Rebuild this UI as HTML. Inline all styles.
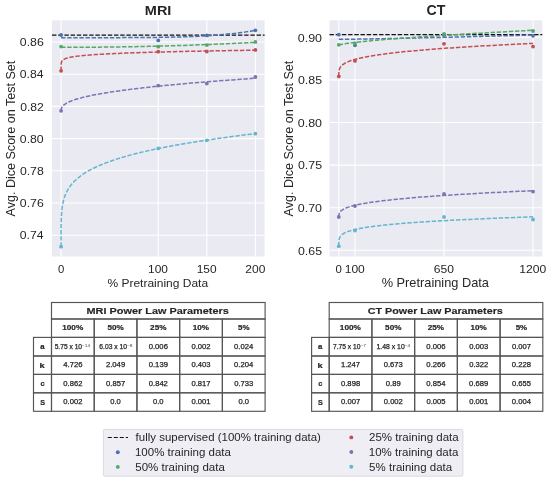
<!DOCTYPE html>
<html><head><meta charset="utf-8"><title>Power law figure</title>
<style>html,body{margin:0;padding:0;background:#fff;}body{width:550px;height:481px;overflow:hidden;}svg{display:block;font-family:"Liberation Sans", sans-serif;filter:blur(0.3px);}</style>
</head><body>
<svg width="550" height="481" viewBox="0 0 550 481">
<rect width="550" height="481" fill="#fff"/>
<rect x="52.0" y="20.3" width="212.60" height="236.20" fill="#EAEAF2"/>
<line x1="61.10" y1="20.3" x2="61.10" y2="256.5" stroke="#fff" stroke-width="1.1"/>
<line x1="158.25" y1="20.3" x2="158.25" y2="256.5" stroke="#fff" stroke-width="1.1"/>
<line x1="206.82" y1="20.3" x2="206.82" y2="256.5" stroke="#fff" stroke-width="1.1"/>
<line x1="255.40" y1="20.3" x2="255.40" y2="256.5" stroke="#fff" stroke-width="1.1"/>
<line x1="52.0" y1="235.20" x2="264.6" y2="235.20" stroke="#fff" stroke-width="1.1"/>
<line x1="52.0" y1="203.00" x2="264.6" y2="203.00" stroke="#fff" stroke-width="1.1"/>
<line x1="52.0" y1="170.80" x2="264.6" y2="170.80" stroke="#fff" stroke-width="1.1"/>
<line x1="52.0" y1="138.60" x2="264.6" y2="138.60" stroke="#fff" stroke-width="1.1"/>
<line x1="52.0" y1="106.40" x2="264.6" y2="106.40" stroke="#fff" stroke-width="1.1"/>
<line x1="52.0" y1="74.20" x2="264.6" y2="74.20" stroke="#fff" stroke-width="1.1"/>
<line x1="52.0" y1="42.00" x2="264.6" y2="42.00" stroke="#fff" stroke-width="1.1"/>
<line x1="52.0" y1="35.20" x2="264.6" y2="35.20" stroke="#111" stroke-width="1.2" stroke-dasharray="4.4 1.8"/>
<polyline points="61.10,37.65 61.10,37.65 61.10,37.65 61.10,37.65 61.11,37.65 61.11,37.65 61.12,37.65 61.14,37.65 61.16,37.65 61.18,37.65 61.21,37.65 61.25,37.65 61.29,37.65 61.35,37.65 61.41,37.65 61.48,37.65 61.56,37.65 61.65,37.65 61.76,37.65 61.87,37.65 62.00,37.65 62.14,37.65 62.30,37.65 62.47,37.65 62.65,37.65 62.86,37.65 63.08,37.65 63.31,37.65 63.57,37.65 63.84,37.65 64.14,37.65 64.45,37.65 64.78,37.65 65.14,37.65 65.52,37.65 65.92,37.65 66.35,37.65 66.80,37.65 67.27,37.65 67.77,37.65 68.30,37.65 68.85,37.65 69.43,37.65 70.04,37.65 70.68,37.65 71.35,37.65 72.04,37.65 72.77,37.65 73.54,37.65 74.33,37.65 75.16,37.65 76.02,37.65 76.91,37.65 77.84,37.65 78.81,37.65 79.81,37.65 80.85,37.65 81.92,37.65 83.04,37.65 84.19,37.65 85.39,37.65 86.62,37.65 87.90,37.65 89.22,37.65 90.58,37.65 91.98,37.65 93.43,37.65 94.92,37.65 96.46,37.65 98.04,37.65 99.67,37.65 101.34,37.65 103.07,37.65 104.84,37.65 106.66,37.65 108.54,37.64 110.46,37.64 112.43,37.64 114.46,37.64 116.54,37.63 118.67,37.63 120.86,37.63 123.10,37.62 125.39,37.61 127.74,37.61 130.15,37.60 132.62,37.59 135.14,37.58 137.73,37.56 140.37,37.55 143.07,37.53 145.83,37.51 148.66,37.48 151.54,37.46 154.49,37.42 157.51,37.39 160.58,37.34 163.72,37.29 166.93,37.24 170.20,37.17 173.54,37.10 176.95,37.02 180.42,36.92 183.97,36.81 187.58,36.69 191.27,36.55 195.02,36.39 198.85,36.21 202.74,36.01 206.72,35.78 210.76,35.52 214.88,35.23 219.07,34.90 223.34,34.53 227.69,34.11 232.11,33.65 236.61,33.12 241.19,32.54 245.85,31.88 250.58,31.15 255.40,30.33" fill="none" stroke="#4C72B0" stroke-width="1.5" stroke-dasharray="4.4 1.7"/>
<polyline points="61.10,47.31 61.10,47.31 61.10,47.31 61.10,47.31 61.11,47.31 61.11,47.31 61.12,47.31 61.14,47.31 61.16,47.31 61.18,47.31 61.21,47.31 61.25,47.31 61.29,47.31 61.35,47.31 61.41,47.31 61.48,47.31 61.56,47.31 61.65,47.31 61.76,47.31 61.87,47.31 62.00,47.31 62.14,47.31 62.30,47.31 62.47,47.31 62.65,47.31 62.86,47.31 63.08,47.31 63.31,47.31 63.57,47.31 63.84,47.31 64.14,47.31 64.45,47.31 64.78,47.31 65.14,47.31 65.52,47.31 65.92,47.31 66.35,47.31 66.80,47.31 67.27,47.31 67.77,47.31 68.30,47.31 68.85,47.31 69.43,47.31 70.04,47.30 70.68,47.30 71.35,47.30 72.04,47.30 72.77,47.30 73.54,47.30 74.33,47.29 75.16,47.29 76.02,47.29 76.91,47.28 77.84,47.28 78.81,47.28 79.81,47.27 80.85,47.27 81.92,47.26 83.04,47.26 84.19,47.25 85.39,47.24 86.62,47.24 87.90,47.23 89.22,47.22 90.58,47.21 91.98,47.20 93.43,47.19 94.92,47.18 96.46,47.16 98.04,47.15 99.67,47.13 101.34,47.12 103.07,47.10 104.84,47.08 106.66,47.06 108.54,47.04 110.46,47.01 112.43,46.99 114.46,46.96 116.54,46.93 118.67,46.90 120.86,46.87 123.10,46.84 125.39,46.80 127.74,46.76 130.15,46.72 132.62,46.67 135.14,46.63 137.73,46.58 140.37,46.52 143.07,46.47 145.83,46.41 148.66,46.35 151.54,46.28 154.49,46.21 157.51,46.14 160.58,46.06 163.72,45.97 166.93,45.89 170.20,45.80 173.54,45.70 176.95,45.60 180.42,45.49 183.97,45.38 187.58,45.26 191.27,45.13 195.02,45.00 198.85,44.87 202.74,44.72 206.72,44.57 210.76,44.41 214.88,44.25 219.07,44.07 223.34,43.89 227.69,43.70 232.11,43.50 236.61,43.29 241.19,43.08 245.85,42.85 250.58,42.61 255.40,42.36" fill="none" stroke="#55A868" stroke-width="1.5" stroke-dasharray="4.4 1.7"/>
<polyline points="61.10,70.82 61.10,68.01 61.10,67.07 61.10,66.38 61.11,65.82 61.11,65.33 61.12,64.90 61.14,64.50 61.16,64.14 61.18,63.81 61.21,63.49 61.25,63.19 61.29,62.91 61.35,62.64 61.41,62.39 61.48,62.14 61.56,61.90 61.65,61.68 61.76,61.45 61.87,61.24 62.00,61.03 62.14,60.83 62.30,60.64 62.47,60.45 62.65,60.26 62.86,60.08 63.08,59.90 63.31,59.73 63.57,59.56 63.84,59.39 64.14,59.23 64.45,59.07 64.78,58.92 65.14,58.76 65.52,58.61 65.92,58.46 66.35,58.32 66.80,58.17 67.27,58.03 67.77,57.89 68.30,57.75 68.85,57.62 69.43,57.49 70.04,57.35 70.68,57.22 71.35,57.10 72.04,56.97 72.77,56.85 73.54,56.72 74.33,56.60 75.16,56.48 76.02,56.36 76.91,56.24 77.84,56.13 78.81,56.01 79.81,55.90 80.85,55.79 81.92,55.68 83.04,55.57 84.19,55.46 85.39,55.35 86.62,55.24 87.90,55.13 89.22,55.03 90.58,54.93 91.98,54.82 93.43,54.72 94.92,54.62 96.46,54.52 98.04,54.42 99.67,54.32 101.34,54.22 103.07,54.13 104.84,54.03 106.66,53.93 108.54,53.84 110.46,53.75 112.43,53.65 114.46,53.56 116.54,53.47 118.67,53.38 120.86,53.29 123.10,53.20 125.39,53.11 127.74,53.02 130.15,52.93 132.62,52.84 135.14,52.76 137.73,52.67 140.37,52.58 143.07,52.50 145.83,52.41 148.66,52.33 151.54,52.25 154.49,52.16 157.51,52.08 160.58,52.00 163.72,51.92 166.93,51.84 170.20,51.76 173.54,51.68 176.95,51.60 180.42,51.52 183.97,51.44 187.58,51.36 191.27,51.28 195.02,51.20 198.85,51.13 202.74,51.05 206.72,50.97 210.76,50.90 214.88,50.82 219.07,50.75 223.34,50.67 227.69,50.60 232.11,50.53 236.61,50.45 241.19,50.38 245.85,50.31 250.58,50.23 255.40,50.16" fill="none" stroke="#C44E52" stroke-width="1.5" stroke-dasharray="4.4 1.7"/>
<polyline points="61.10,110.91 61.10,110.81 61.10,110.68 61.10,110.53 61.11,110.37 61.11,110.21 61.12,110.03 61.14,109.86 61.16,109.67 61.18,109.48 61.21,109.29 61.25,109.09 61.29,108.89 61.35,108.68 61.41,108.48 61.48,108.26 61.56,108.05 61.65,107.83 61.76,107.61 61.87,107.39 62.00,107.17 62.14,106.94 62.30,106.71 62.47,106.48 62.65,106.24 62.86,106.01 63.08,105.77 63.31,105.53 63.57,105.29 63.84,105.04 64.14,104.80 64.45,104.55 64.78,104.30 65.14,104.05 65.52,103.80 65.92,103.55 66.35,103.29 66.80,103.03 67.27,102.78 67.77,102.52 68.30,102.26 68.85,101.99 69.43,101.73 70.04,101.46 70.68,101.20 71.35,100.93 72.04,100.66 72.77,100.39 73.54,100.12 74.33,99.85 75.16,99.58 76.02,99.30 76.91,99.03 77.84,98.75 78.81,98.47 79.81,98.19 80.85,97.91 81.92,97.63 83.04,97.35 84.19,97.07 85.39,96.78 86.62,96.50 87.90,96.21 89.22,95.92 90.58,95.63 91.98,95.35 93.43,95.06 94.92,94.76 96.46,94.47 98.04,94.18 99.67,93.89 101.34,93.59 103.07,93.30 104.84,93.00 106.66,92.70 108.54,92.41 110.46,92.11 112.43,91.81 114.46,91.51 116.54,91.21 118.67,90.90 120.86,90.60 123.10,90.30 125.39,89.99 127.74,89.69 130.15,89.38 132.62,89.08 135.14,88.77 137.73,88.46 140.37,88.15 143.07,87.84 145.83,87.53 148.66,87.22 151.54,86.91 154.49,86.60 157.51,86.29 160.58,85.97 163.72,85.66 166.93,85.34 170.20,85.03 173.54,84.71 176.95,84.39 180.42,84.08 183.97,83.76 187.58,83.44 191.27,83.12 195.02,82.80 198.85,82.48 202.74,82.16 206.72,81.83 210.76,81.51 214.88,81.19 219.07,80.86 223.34,80.54 227.69,80.21 232.11,79.89 236.61,79.56 241.19,79.23 245.85,78.91 250.58,78.58 255.40,78.25" fill="none" stroke="#8172B2" stroke-width="1.5" stroke-dasharray="4.4 1.7"/>
<polyline points="61.10,246.63 61.10,240.60 61.10,237.41 61.10,234.81 61.11,232.54 61.11,230.48 61.12,228.57 61.14,226.78 61.16,225.09 61.18,223.48 61.21,221.94 61.25,220.46 61.29,219.03 61.35,217.64 61.41,216.29 61.48,214.99 61.56,213.71 61.65,212.47 61.76,211.25 61.87,210.06 62.00,208.89 62.14,207.75 62.30,206.63 62.47,205.52 62.65,204.44 62.86,203.37 63.08,202.32 63.31,201.29 63.57,200.27 63.84,199.26 64.14,198.27 64.45,197.29 64.78,196.32 65.14,195.36 65.52,194.42 65.92,193.48 66.35,192.56 66.80,191.64 67.27,190.74 67.77,189.84 68.30,188.95 68.85,188.08 69.43,187.21 70.04,186.34 70.68,185.49 71.35,184.64 72.04,183.80 72.77,182.97 73.54,182.15 74.33,181.33 75.16,180.52 76.02,179.71 76.91,178.91 77.84,178.11 78.81,177.33 79.81,176.54 80.85,175.77 81.92,174.99 83.04,174.23 84.19,173.47 85.39,172.71 86.62,171.96 87.90,171.21 89.22,170.47 90.58,169.73 91.98,169.00 93.43,168.27 94.92,167.55 96.46,166.83 98.04,166.11 99.67,165.40 101.34,164.69 103.07,163.98 104.84,163.28 106.66,162.59 108.54,161.89 110.46,161.20 112.43,160.52 114.46,159.84 116.54,159.16 118.67,158.48 120.86,157.81 123.10,157.14 125.39,156.47 127.74,155.81 130.15,155.15 132.62,154.49 135.14,153.84 137.73,153.19 140.37,152.54 143.07,151.89 145.83,151.25 148.66,150.61 151.54,149.97 154.49,149.34 157.51,148.70 160.58,148.07 163.72,147.45 166.93,146.82 170.20,146.20 173.54,145.58 176.95,144.96 180.42,144.35 183.97,143.74 187.58,143.13 191.27,142.52 195.02,141.91 198.85,141.31 202.74,140.71 206.72,140.11 210.76,139.51 214.88,138.92 219.07,138.32 223.34,137.73 227.69,137.14 232.11,136.56 236.61,135.97 241.19,135.39 245.85,134.81 250.58,134.23 255.40,133.65" fill="none" stroke="#64B5CD" stroke-width="1.5" stroke-dasharray="4.4 1.7"/>
<circle cx="61.10" cy="35.00" r="1.9" fill="#4C72B0"/>
<circle cx="158.25" cy="40.40" r="1.9" fill="#4C72B0"/>
<circle cx="206.82" cy="35.40" r="1.9" fill="#4C72B0"/>
<circle cx="255.40" cy="30.30" r="1.9" fill="#4C72B0"/>
<circle cx="61.10" cy="46.60" r="1.9" fill="#55A868"/>
<circle cx="158.25" cy="46.70" r="1.9" fill="#55A868"/>
<circle cx="206.82" cy="45.10" r="1.9" fill="#55A868"/>
<circle cx="255.40" cy="41.90" r="1.9" fill="#55A868"/>
<circle cx="61.10" cy="70.80" r="1.9" fill="#C44E52"/>
<circle cx="158.25" cy="51.70" r="1.9" fill="#C44E52"/>
<circle cx="206.82" cy="51.50" r="1.9" fill="#C44E52"/>
<circle cx="255.40" cy="49.90" r="1.9" fill="#C44E52"/>
<circle cx="61.10" cy="110.80" r="1.9" fill="#8172B2"/>
<circle cx="158.25" cy="85.60" r="1.9" fill="#8172B2"/>
<circle cx="206.82" cy="83.60" r="1.9" fill="#8172B2"/>
<circle cx="255.40" cy="77.00" r="1.9" fill="#8172B2"/>
<circle cx="61.10" cy="246.70" r="1.9" fill="#64B5CD"/>
<circle cx="158.25" cy="148.40" r="1.9" fill="#64B5CD"/>
<circle cx="206.82" cy="140.30" r="1.9" fill="#64B5CD"/>
<circle cx="255.40" cy="133.70" r="1.9" fill="#64B5CD"/>
<text x="57.95" y="273.00" font-size="11.40" textLength="6.29" lengthAdjust="spacingAndGlyphs" fill="#262626">0</text>
<text x="148.09" y="273.00" font-size="11.40" textLength="19.89" lengthAdjust="spacingAndGlyphs" fill="#262626">100</text>
<text x="196.66" y="273.00" font-size="11.40" textLength="19.89" lengthAdjust="spacingAndGlyphs" fill="#262626">150</text>
<text x="245.33" y="273.00" font-size="11.40" textLength="20.00" lengthAdjust="spacingAndGlyphs" fill="#262626">200</text>
<text x="19.77" y="239.30" font-size="11.61" textLength="23.79" lengthAdjust="spacingAndGlyphs" fill="#262626">0.74</text>
<text x="19.85" y="207.10" font-size="11.61" textLength="23.89" lengthAdjust="spacingAndGlyphs" fill="#262626">0.76</text>
<text x="19.90" y="174.90" font-size="11.61" textLength="23.84" lengthAdjust="spacingAndGlyphs" fill="#262626">0.78</text>
<text x="19.88" y="142.70" font-size="11.61" textLength="23.80" lengthAdjust="spacingAndGlyphs" fill="#262626">0.80</text>
<text x="20.26" y="110.50" font-size="11.61" textLength="23.56" lengthAdjust="spacingAndGlyphs" fill="#262626">0.82</text>
<text x="19.77" y="78.30" font-size="11.61" textLength="23.79" lengthAdjust="spacingAndGlyphs" fill="#262626">0.84</text>
<text x="19.85" y="46.10" font-size="11.61" textLength="23.89" lengthAdjust="spacingAndGlyphs" fill="#262626">0.86</text>
<text x="144.82" y="14.80" font-size="13.42" font-weight="bold" textLength="26.57" lengthAdjust="spacingAndGlyphs" fill="#262626">MRI</text>
<text x="107.48" y="286.60" font-size="11.71" textLength="100.63" lengthAdjust="spacingAndGlyphs" fill="#262626">% Pretraining Data</text>
<text transform="translate(15.30,216.43) rotate(-90)" x="0" y="0" font-size="12.14" textLength="155.72" lengthAdjust="spacingAndGlyphs" fill="#262626">Avg. Dice Score on Test Set</text>
<rect x="329.5" y="20.3" width="212.80" height="236.20" fill="#EAEAF2"/>
<line x1="338.80" y1="20.3" x2="338.80" y2="256.5" stroke="#fff" stroke-width="1.1"/>
<line x1="354.99" y1="20.3" x2="354.99" y2="256.5" stroke="#fff" stroke-width="1.1"/>
<line x1="444.02" y1="20.3" x2="444.02" y2="256.5" stroke="#fff" stroke-width="1.1"/>
<line x1="533.06" y1="20.3" x2="533.06" y2="256.5" stroke="#fff" stroke-width="1.1"/>
<line x1="329.5" y1="250.30" x2="542.3" y2="250.30" stroke="#fff" stroke-width="1.1"/>
<line x1="329.5" y1="207.70" x2="542.3" y2="207.70" stroke="#fff" stroke-width="1.1"/>
<line x1="329.5" y1="165.10" x2="542.3" y2="165.10" stroke="#fff" stroke-width="1.1"/>
<line x1="329.5" y1="122.50" x2="542.3" y2="122.50" stroke="#fff" stroke-width="1.1"/>
<line x1="329.5" y1="79.90" x2="542.3" y2="79.90" stroke="#fff" stroke-width="1.1"/>
<line x1="329.5" y1="37.30" x2="542.3" y2="37.30" stroke="#fff" stroke-width="1.1"/>
<line x1="329.5" y1="34.60" x2="542.3" y2="34.60" stroke="#111" stroke-width="1.2" stroke-dasharray="4.4 1.8"/>
<polyline points="338.80,39.34 338.80,39.34 338.80,39.34 338.80,39.34 338.81,39.34 338.81,39.34 338.82,39.34 338.84,39.34 338.86,39.34 338.88,39.34 338.91,39.34 338.95,39.34 338.99,39.34 339.05,39.34 339.11,39.34 339.18,39.34 339.26,39.34 339.35,39.34 339.46,39.34 339.57,39.34 339.70,39.34 339.84,39.34 340.00,39.34 340.17,39.34 340.35,39.33 340.56,39.33 340.78,39.33 341.01,39.33 341.27,39.33 341.54,39.32 341.84,39.32 342.15,39.32 342.48,39.31 342.84,39.31 343.22,39.31 343.62,39.30 344.04,39.30 344.49,39.29 344.97,39.29 345.47,39.28 345.99,39.27 346.55,39.27 347.13,39.26 347.74,39.25 348.38,39.24 349.04,39.23 349.74,39.22 350.47,39.21 351.23,39.20 352.03,39.19 352.85,39.18 353.71,39.17 354.61,39.15 355.54,39.14 356.50,39.13 357.50,39.11 358.54,39.09 359.62,39.08 360.73,39.06 361.89,39.04 363.08,39.02 364.32,39.00 365.59,38.98 366.91,38.95 368.27,38.93 369.67,38.91 371.12,38.88 372.61,38.85 374.15,38.82 375.73,38.80 377.36,38.77 379.04,38.73 380.76,38.70 382.53,38.67 384.35,38.63 386.23,38.59 388.15,38.56 390.12,38.52 392.15,38.48 394.23,38.43 396.36,38.39 398.54,38.34 400.78,38.30 403.08,38.25 405.43,38.20 407.84,38.15 410.30,38.09 412.83,38.04 415.41,37.98 418.05,37.92 420.75,37.86 423.51,37.80 426.34,37.73 429.22,37.67 432.17,37.60 435.18,37.53 438.26,37.46 441.40,37.38 444.61,37.30 447.88,37.22 451.22,37.14 454.62,37.06 458.10,36.97 461.64,36.89 465.25,36.80 468.94,36.70 472.69,36.61 476.52,36.51 480.41,36.41 484.38,36.31 488.43,36.20 492.54,36.09 496.74,35.98 501.01,35.87 505.35,35.75 509.77,35.63 514.27,35.51 518.85,35.38 523.50,35.26 528.24,35.12 533.06,34.99" fill="none" stroke="#4C72B0" stroke-width="1.5" stroke-dasharray="4.4 1.7"/>
<polyline points="338.80,45.22 338.80,45.22 338.80,45.22 338.80,45.21 338.81,45.21 338.81,45.20 338.82,45.19 338.84,45.18 338.86,45.16 338.88,45.14 338.91,45.12 338.95,45.10 338.99,45.08 339.05,45.06 339.11,45.03 339.18,45.00 339.26,44.97 339.35,44.93 339.46,44.90 339.57,44.86 339.70,44.82 339.84,44.78 340.00,44.74 340.17,44.69 340.35,44.64 340.56,44.59 340.78,44.54 341.01,44.49 341.27,44.43 341.54,44.37 341.84,44.31 342.15,44.25 342.48,44.19 342.84,44.12 343.22,44.05 343.62,43.98 344.04,43.91 344.49,43.83 344.97,43.76 345.47,43.68 345.99,43.60 346.55,43.51 347.13,43.43 347.74,43.34 348.38,43.25 349.04,43.16 349.74,43.07 350.47,42.97 351.23,42.87 352.03,42.77 352.85,42.67 353.71,42.57 354.61,42.46 355.54,42.35 356.50,42.24 357.50,42.13 358.54,42.02 359.62,41.90 360.73,41.78 361.89,41.66 363.08,41.54 364.32,41.41 365.59,41.28 366.91,41.15 368.27,41.02 369.67,40.89 371.12,40.75 372.61,40.62 374.15,40.48 375.73,40.33 377.36,40.19 379.04,40.04 380.76,39.90 382.53,39.75 384.35,39.59 386.23,39.44 388.15,39.28 390.12,39.12 392.15,38.96 394.23,38.80 396.36,38.63 398.54,38.47 400.78,38.30 403.08,38.12 405.43,37.95 407.84,37.77 410.30,37.60 412.83,37.42 415.41,37.23 418.05,37.05 420.75,36.86 423.51,36.68 426.34,36.48 429.22,36.29 432.17,36.10 435.18,35.90 438.26,35.70 441.40,35.50 444.61,35.30 447.88,35.09 451.22,34.88 454.62,34.67 458.10,34.46 461.64,34.25 465.25,34.03 468.94,33.81 472.69,33.59 476.52,33.37 480.41,33.14 484.38,32.92 488.43,32.69 492.54,32.46 496.74,32.22 501.01,31.99 505.35,31.75 509.77,31.51 514.27,31.27 518.85,31.02 523.50,30.78 528.24,30.53 533.06,30.28" fill="none" stroke="#55A868" stroke-width="1.5" stroke-dasharray="4.4 1.7"/>
<polyline points="338.80,76.41 338.80,75.68 338.80,75.15 338.80,74.67 338.81,74.22 338.81,73.80 338.82,73.39 338.84,72.99 338.86,72.61 338.88,72.23 338.91,71.87 338.95,71.51 338.99,71.16 339.05,70.81 339.11,70.47 339.18,70.13 339.26,69.80 339.35,69.47 339.46,69.15 339.57,68.83 339.70,68.51 339.84,68.20 340.00,67.89 340.17,67.58 340.35,67.28 340.56,66.98 340.78,66.68 341.01,66.38 341.27,66.08 341.54,65.79 341.84,65.50 342.15,65.21 342.48,64.92 342.84,64.64 343.22,64.35 343.62,64.07 344.04,63.79 344.49,63.51 344.97,63.23 345.47,62.96 345.99,62.68 346.55,62.41 347.13,62.14 347.74,61.87 348.38,61.60 349.04,61.33 349.74,61.06 350.47,60.80 351.23,60.53 352.03,60.27 352.85,60.01 353.71,59.75 354.61,59.49 355.54,59.23 356.50,58.97 357.50,58.71 358.54,58.46 359.62,58.20 360.73,57.95 361.89,57.69 363.08,57.44 364.32,57.19 365.59,56.94 366.91,56.69 368.27,56.44 369.67,56.19 371.12,55.94 372.61,55.69 374.15,55.45 375.73,55.20 377.36,54.96 379.04,54.71 380.76,54.47 382.53,54.23 384.35,53.98 386.23,53.74 388.15,53.50 390.12,53.26 392.15,53.02 394.23,52.78 396.36,52.55 398.54,52.31 400.78,52.07 403.08,51.83 405.43,51.60 407.84,51.36 410.30,51.13 412.83,50.89 415.41,50.66 418.05,50.43 420.75,50.19 423.51,49.96 426.34,49.73 429.22,49.50 432.17,49.27 435.18,49.04 438.26,48.81 441.40,48.58 444.61,48.35 447.88,48.12 451.22,47.89 454.62,47.67 458.10,47.44 461.64,47.21 465.25,46.99 468.94,46.76 472.69,46.54 476.52,46.31 480.41,46.09 484.38,45.87 488.43,45.64 492.54,45.42 496.74,45.20 501.01,44.97 505.35,44.75 509.77,44.53 514.27,44.31 518.85,44.09 523.50,43.87 528.24,43.65 533.06,43.43" fill="none" stroke="#C44E52" stroke-width="1.5" stroke-dasharray="4.4 1.7"/>
<polyline points="338.80,217.16 338.80,216.90 338.80,216.65 338.80,216.41 338.81,216.17 338.81,215.93 338.82,215.69 338.84,215.46 338.86,215.22 338.88,214.99 338.91,214.76 338.95,214.53 338.99,214.30 339.05,214.07 339.11,213.84 339.18,213.61 339.26,213.38 339.35,213.15 339.46,212.93 339.57,212.70 339.70,212.47 339.84,212.25 340.00,212.02 340.17,211.79 340.35,211.57 340.56,211.34 340.78,211.12 341.01,210.90 341.27,210.67 341.54,210.45 341.84,210.23 342.15,210.00 342.48,209.78 342.84,209.56 343.22,209.33 343.62,209.11 344.04,208.89 344.49,208.67 344.97,208.45 345.47,208.23 345.99,208.00 346.55,207.78 347.13,207.56 347.74,207.34 348.38,207.12 349.04,206.90 349.74,206.68 350.47,206.46 351.23,206.24 352.03,206.02 352.85,205.80 353.71,205.58 354.61,205.36 355.54,205.15 356.50,204.93 357.50,204.71 358.54,204.49 359.62,204.27 360.73,204.05 361.89,203.83 363.08,203.62 364.32,203.40 365.59,203.18 366.91,202.96 368.27,202.75 369.67,202.53 371.12,202.31 372.61,202.09 374.15,201.88 375.73,201.66 377.36,201.44 379.04,201.23 380.76,201.01 382.53,200.79 384.35,200.58 386.23,200.36 388.15,200.14 390.12,199.93 392.15,199.71 394.23,199.49 396.36,199.28 398.54,199.06 400.78,198.85 403.08,198.63 405.43,198.42 407.84,198.20 410.30,197.98 412.83,197.77 415.41,197.55 418.05,197.34 420.75,197.12 423.51,196.91 426.34,196.69 429.22,196.48 432.17,196.26 435.18,196.05 438.26,195.84 441.40,195.62 444.61,195.41 447.88,195.19 451.22,194.98 454.62,194.76 458.10,194.55 461.64,194.33 465.25,194.12 468.94,193.91 472.69,193.69 476.52,193.48 480.41,193.27 484.38,193.05 488.43,192.84 492.54,192.62 496.74,192.41 501.01,192.20 505.35,191.98 509.77,191.77 514.27,191.56 518.85,191.34 523.50,191.13 528.24,190.92 533.06,190.71" fill="none" stroke="#8172B2" stroke-width="1.5" stroke-dasharray="4.4 1.7"/>
<polyline points="338.80,246.13 338.80,245.02 338.80,244.35 338.80,243.78 338.81,243.27 338.81,242.79 338.82,242.35 338.84,241.93 338.86,241.53 338.88,241.15 338.91,240.77 338.95,240.41 338.99,240.06 339.05,239.72 339.11,239.39 339.18,239.06 339.26,238.74 339.35,238.43 339.46,238.12 339.57,237.82 339.70,237.53 339.84,237.24 340.00,236.95 340.17,236.66 340.35,236.39 340.56,236.11 340.78,235.84 341.01,235.57 341.27,235.30 341.54,235.04 341.84,234.78 342.15,234.52 342.48,234.27 342.84,234.01 343.22,233.76 343.62,233.52 344.04,233.27 344.49,233.03 344.97,232.79 345.47,232.55 345.99,232.31 346.55,232.08 347.13,231.84 347.74,231.61 348.38,231.38 349.04,231.15 349.74,230.93 350.47,230.70 351.23,230.48 352.03,230.25 352.85,230.03 353.71,229.81 354.61,229.60 355.54,229.38 356.50,229.16 357.50,228.95 358.54,228.74 359.62,228.52 360.73,228.31 361.89,228.10 363.08,227.90 364.32,227.69 365.59,227.48 366.91,227.28 368.27,227.07 369.67,226.87 371.12,226.67 372.61,226.47 374.15,226.27 375.73,226.07 377.36,225.87 379.04,225.67 380.76,225.48 382.53,225.28 384.35,225.08 386.23,224.89 388.15,224.70 390.12,224.51 392.15,224.31 394.23,224.12 396.36,223.93 398.54,223.74 400.78,223.55 403.08,223.37 405.43,223.18 407.84,222.99 410.30,222.81 412.83,222.62 415.41,222.44 418.05,222.25 420.75,222.07 423.51,221.89 426.34,221.71 429.22,221.52 432.17,221.34 435.18,221.16 438.26,220.98 441.40,220.81 444.61,220.63 447.88,220.45 451.22,220.27 454.62,220.10 458.10,219.92 461.64,219.74 465.25,219.57 468.94,219.40 472.69,219.22 476.52,219.05 480.41,218.88 484.38,218.70 488.43,218.53 492.54,218.36 496.74,218.19 501.01,218.02 505.35,217.85 509.77,217.68 514.27,217.51 518.85,217.34 523.50,217.17 528.24,217.01 533.06,216.84" fill="none" stroke="#64B5CD" stroke-width="1.5" stroke-dasharray="4.4 1.7"/>
<circle cx="338.80" cy="34.70" r="1.9" fill="#4C72B0"/>
<circle cx="354.99" cy="45.30" r="1.9" fill="#4C72B0"/>
<circle cx="444.02" cy="34.90" r="1.9" fill="#4C72B0"/>
<circle cx="533.06" cy="35.80" r="1.9" fill="#4C72B0"/>
<circle cx="338.80" cy="44.80" r="1.9" fill="#55A868"/>
<circle cx="354.99" cy="43.50" r="1.9" fill="#55A868"/>
<circle cx="444.02" cy="33.90" r="1.9" fill="#55A868"/>
<circle cx="533.06" cy="31.00" r="1.9" fill="#55A868"/>
<circle cx="338.80" cy="76.40" r="1.9" fill="#C44E52"/>
<circle cx="354.99" cy="60.90" r="1.9" fill="#C44E52"/>
<circle cx="444.02" cy="43.80" r="1.9" fill="#C44E52"/>
<circle cx="533.06" cy="46.60" r="1.9" fill="#C44E52"/>
<circle cx="338.80" cy="217.00" r="1.9" fill="#8172B2"/>
<circle cx="354.99" cy="206.00" r="1.9" fill="#8172B2"/>
<circle cx="444.02" cy="193.90" r="1.9" fill="#8172B2"/>
<circle cx="533.06" cy="191.60" r="1.9" fill="#8172B2"/>
<circle cx="338.80" cy="246.20" r="1.9" fill="#64B5CD"/>
<circle cx="354.99" cy="230.50" r="1.9" fill="#64B5CD"/>
<circle cx="444.02" cy="217.00" r="1.9" fill="#64B5CD"/>
<circle cx="533.06" cy="219.50" r="1.9" fill="#64B5CD"/>
<text x="335.62" y="273.00" font-size="11.50" textLength="6.35" lengthAdjust="spacingAndGlyphs" fill="#262626">0</text>
<text x="344.73" y="273.00" font-size="11.50" textLength="20.08" lengthAdjust="spacingAndGlyphs" fill="#262626">100</text>
<text x="433.84" y="273.00" font-size="11.50" textLength="20.22" lengthAdjust="spacingAndGlyphs" fill="#262626">650</text>
<text x="519.35" y="273.00" font-size="11.50" textLength="26.99" lengthAdjust="spacingAndGlyphs" fill="#262626">1200</text>
<text x="297.97" y="254.60" font-size="11.82" textLength="24.04" lengthAdjust="spacingAndGlyphs" fill="#262626">0.65</text>
<text x="297.75" y="212.00" font-size="11.82" textLength="24.24" lengthAdjust="spacingAndGlyphs" fill="#262626">0.70</text>
<text x="297.97" y="169.40" font-size="11.82" textLength="24.04" lengthAdjust="spacingAndGlyphs" fill="#262626">0.75</text>
<text x="297.75" y="126.80" font-size="11.82" textLength="24.24" lengthAdjust="spacingAndGlyphs" fill="#262626">0.80</text>
<text x="297.97" y="84.20" font-size="11.82" textLength="24.04" lengthAdjust="spacingAndGlyphs" fill="#262626">0.85</text>
<text x="297.75" y="41.60" font-size="11.82" textLength="24.24" lengthAdjust="spacingAndGlyphs" fill="#262626">0.90</text>
<text x="426.47" y="15.00" font-size="14.16" font-weight="bold" textLength="18.84" lengthAdjust="spacingAndGlyphs" fill="#262626">CT</text>
<text x="381.65" y="286.80" font-size="12.25" textLength="107.36" lengthAdjust="spacingAndGlyphs" fill="#262626">% Pretraining Data</text>
<text transform="translate(293.30,216.43) rotate(-90)" x="0" y="0" font-size="12.14" textLength="155.72" lengthAdjust="spacingAndGlyphs" fill="#262626">Avg. Dice Score on Test Set</text>
<rect x="51.50" y="302.5" width="213.60" height="16.50" stroke="#555" stroke-width="1.15" fill="none"/>
<rect x="51.50" y="319.0" width="42.72" height="18.40" stroke="#555" stroke-width="1.15" fill="none"/>
<rect x="94.22" y="319.0" width="42.72" height="18.40" stroke="#555" stroke-width="1.15" fill="none"/>
<rect x="136.94" y="319.0" width="42.72" height="18.40" stroke="#555" stroke-width="1.15" fill="none"/>
<rect x="179.66" y="319.0" width="42.72" height="18.40" stroke="#555" stroke-width="1.15" fill="none"/>
<rect x="222.38" y="319.0" width="42.72" height="18.40" stroke="#555" stroke-width="1.15" fill="none"/>
<rect x="33.50" y="337.4" width="18.00" height="18.60" stroke="#555" stroke-width="1.15" fill="none"/>
<rect x="51.50" y="337.4" width="42.72" height="18.60" stroke="#555" stroke-width="1.15" fill="none"/>
<rect x="94.22" y="337.4" width="42.72" height="18.60" stroke="#555" stroke-width="1.15" fill="none"/>
<rect x="136.94" y="337.4" width="42.72" height="18.60" stroke="#555" stroke-width="1.15" fill="none"/>
<rect x="179.66" y="337.4" width="42.72" height="18.60" stroke="#555" stroke-width="1.15" fill="none"/>
<rect x="222.38" y="337.4" width="42.72" height="18.60" stroke="#555" stroke-width="1.15" fill="none"/>
<rect x="33.50" y="356.0" width="18.00" height="18.40" stroke="#555" stroke-width="1.15" fill="none"/>
<rect x="51.50" y="356.0" width="42.72" height="18.40" stroke="#555" stroke-width="1.15" fill="none"/>
<rect x="94.22" y="356.0" width="42.72" height="18.40" stroke="#555" stroke-width="1.15" fill="none"/>
<rect x="136.94" y="356.0" width="42.72" height="18.40" stroke="#555" stroke-width="1.15" fill="none"/>
<rect x="179.66" y="356.0" width="42.72" height="18.40" stroke="#555" stroke-width="1.15" fill="none"/>
<rect x="222.38" y="356.0" width="42.72" height="18.40" stroke="#555" stroke-width="1.15" fill="none"/>
<rect x="33.50" y="374.4" width="18.00" height="18.40" stroke="#555" stroke-width="1.15" fill="none"/>
<rect x="51.50" y="374.4" width="42.72" height="18.40" stroke="#555" stroke-width="1.15" fill="none"/>
<rect x="94.22" y="374.4" width="42.72" height="18.40" stroke="#555" stroke-width="1.15" fill="none"/>
<rect x="136.94" y="374.4" width="42.72" height="18.40" stroke="#555" stroke-width="1.15" fill="none"/>
<rect x="179.66" y="374.4" width="42.72" height="18.40" stroke="#555" stroke-width="1.15" fill="none"/>
<rect x="222.38" y="374.4" width="42.72" height="18.40" stroke="#555" stroke-width="1.15" fill="none"/>
<rect x="33.50" y="392.8" width="18.00" height="18.50" stroke="#555" stroke-width="1.15" fill="none"/>
<rect x="51.50" y="392.8" width="42.72" height="18.50" stroke="#555" stroke-width="1.15" fill="none"/>
<rect x="94.22" y="392.8" width="42.72" height="18.50" stroke="#555" stroke-width="1.15" fill="none"/>
<rect x="136.94" y="392.8" width="42.72" height="18.50" stroke="#555" stroke-width="1.15" fill="none"/>
<rect x="179.66" y="392.8" width="42.72" height="18.50" stroke="#555" stroke-width="1.15" fill="none"/>
<rect x="222.38" y="392.8" width="42.72" height="18.50" stroke="#555" stroke-width="1.15" fill="none"/>
<text x="86.56" y="314.30" font-size="9.80" font-weight="bold" stroke="#262626" stroke-width="0.15" textLength="142.28" lengthAdjust="spacingAndGlyphs" fill="#262626">MRI Power Law Parameters</text>
<text x="62.19" y="330.40" font-size="7.35" font-weight="bold" stroke="#262626" stroke-width="0.2" textLength="21.06" lengthAdjust="spacingAndGlyphs" fill="#262626">100%</text>
<text x="107.43" y="330.40" font-size="7.35" font-weight="bold" stroke="#262626" stroke-width="0.2" textLength="16.25" lengthAdjust="spacingAndGlyphs" fill="#262626">50%</text>
<text x="150.14" y="330.40" font-size="7.35" font-weight="bold" stroke="#262626" stroke-width="0.2" textLength="16.25" lengthAdjust="spacingAndGlyphs" fill="#262626">25%</text>
<text x="192.75" y="330.40" font-size="7.35" font-weight="bold" stroke="#262626" stroke-width="0.2" textLength="16.25" lengthAdjust="spacingAndGlyphs" fill="#262626">10%</text>
<text x="238.01" y="330.40" font-size="7.35" font-weight="bold" stroke="#262626" stroke-width="0.2" textLength="11.43" lengthAdjust="spacingAndGlyphs" fill="#262626">5%</text>
<text x="40.19" y="349.20" font-size="7.99" font-weight="bold" stroke="#262626" stroke-width="0.2" textLength="4.33" lengthAdjust="spacingAndGlyphs" fill="#262626">a</text>
<text x="54.63" y="348.70" font-size="6.92" stroke="#262626" stroke-width="0.25" textLength="27.43" lengthAdjust="spacingAndGlyphs" fill="#262626">5.75 x 10</text>
<text x="82.06" y="346.70" font-size="4.15" textLength="7.98" lengthAdjust="spacingAndGlyphs" fill="#444">−14</text>
<text x="99.36" y="348.70" font-size="6.92" stroke="#262626" stroke-width="0.25" textLength="27.70" lengthAdjust="spacingAndGlyphs" fill="#262626">6.03 x 10</text>
<text x="127.06" y="346.70" font-size="4.15" textLength="5.52" lengthAdjust="spacingAndGlyphs" fill="#444">−8</text>
<text x="148.69" y="348.90" font-size="7.24" stroke="#262626" stroke-width="0.25" textLength="19.23" lengthAdjust="spacingAndGlyphs" fill="#262626">0.006</text>
<text x="191.54" y="348.90" font-size="7.24" stroke="#262626" stroke-width="0.25" textLength="19.03" lengthAdjust="spacingAndGlyphs" fill="#262626">0.002</text>
<text x="234.11" y="348.90" font-size="7.24" stroke="#262626" stroke-width="0.25" textLength="19.17" lengthAdjust="spacingAndGlyphs" fill="#262626">0.024</text>
<text x="39.62" y="367.70" font-size="7.99" font-weight="bold" stroke="#262626" stroke-width="0.2" textLength="5.11" lengthAdjust="spacingAndGlyphs" fill="#262626">k</text>
<text x="63.34" y="367.40" font-size="7.24" stroke="#262626" stroke-width="0.25" textLength="19.20" lengthAdjust="spacingAndGlyphs" fill="#262626">4.726</text>
<text x="105.95" y="367.40" font-size="7.24" stroke="#262626" stroke-width="0.25" textLength="19.23" lengthAdjust="spacingAndGlyphs" fill="#262626">2.049</text>
<text x="148.72" y="367.40" font-size="7.24" stroke="#262626" stroke-width="0.25" textLength="19.20" lengthAdjust="spacingAndGlyphs" fill="#262626">0.139</text>
<text x="191.48" y="367.40" font-size="7.24" stroke="#262626" stroke-width="0.25" textLength="19.11" lengthAdjust="spacingAndGlyphs" fill="#262626">0.403</text>
<text x="234.11" y="367.40" font-size="7.24" stroke="#262626" stroke-width="0.25" textLength="19.17" lengthAdjust="spacingAndGlyphs" fill="#262626">0.204</text>
<text x="40.39" y="386.10" font-size="7.99" font-weight="bold" stroke="#262626" stroke-width="0.2" textLength="4.13" lengthAdjust="spacingAndGlyphs" fill="#262626">c</text>
<text x="63.38" y="385.80" font-size="7.24" stroke="#262626" stroke-width="0.25" textLength="19.03" lengthAdjust="spacingAndGlyphs" fill="#262626">0.862</text>
<text x="106.05" y="385.80" font-size="7.24" stroke="#262626" stroke-width="0.25" textLength="19.13" lengthAdjust="spacingAndGlyphs" fill="#262626">0.857</text>
<text x="148.82" y="385.80" font-size="7.24" stroke="#262626" stroke-width="0.25" textLength="19.03" lengthAdjust="spacingAndGlyphs" fill="#262626">0.842</text>
<text x="191.49" y="385.80" font-size="7.24" stroke="#262626" stroke-width="0.25" textLength="19.13" lengthAdjust="spacingAndGlyphs" fill="#262626">0.817</text>
<text x="234.20" y="385.80" font-size="7.24" stroke="#262626" stroke-width="0.25" textLength="19.11" lengthAdjust="spacingAndGlyphs" fill="#262626">0.733</text>
<text x="40.13" y="404.55" font-size="7.99" font-weight="bold" stroke="#262626" stroke-width="0.2" textLength="4.81" lengthAdjust="spacingAndGlyphs" fill="#262626">S</text>
<text x="63.38" y="404.25" font-size="7.24" stroke="#262626" stroke-width="0.25" textLength="19.03" lengthAdjust="spacingAndGlyphs" fill="#262626">0.002</text>
<text x="110.31" y="404.25" font-size="7.24" stroke="#262626" stroke-width="0.25" textLength="10.52" lengthAdjust="spacingAndGlyphs" fill="#262626">0.0</text>
<text x="153.03" y="404.25" font-size="7.24" stroke="#262626" stroke-width="0.25" textLength="10.52" lengthAdjust="spacingAndGlyphs" fill="#262626">0.0</text>
<text x="191.51" y="404.25" font-size="7.24" stroke="#262626" stroke-width="0.25" textLength="19.08" lengthAdjust="spacingAndGlyphs" fill="#262626">0.001</text>
<text x="238.47" y="404.25" font-size="7.24" stroke="#262626" stroke-width="0.25" textLength="10.52" lengthAdjust="spacingAndGlyphs" fill="#262626">0.0</text>
<rect x="329.20" y="302.5" width="213.60" height="16.50" stroke="#555" stroke-width="1.15" fill="none"/>
<rect x="329.20" y="319.0" width="42.72" height="18.40" stroke="#555" stroke-width="1.15" fill="none"/>
<rect x="371.92" y="319.0" width="42.72" height="18.40" stroke="#555" stroke-width="1.15" fill="none"/>
<rect x="414.64" y="319.0" width="42.72" height="18.40" stroke="#555" stroke-width="1.15" fill="none"/>
<rect x="457.36" y="319.0" width="42.72" height="18.40" stroke="#555" stroke-width="1.15" fill="none"/>
<rect x="500.08" y="319.0" width="42.72" height="18.40" stroke="#555" stroke-width="1.15" fill="none"/>
<rect x="311.60" y="337.4" width="17.60" height="18.60" stroke="#555" stroke-width="1.15" fill="none"/>
<rect x="329.20" y="337.4" width="42.72" height="18.60" stroke="#555" stroke-width="1.15" fill="none"/>
<rect x="371.92" y="337.4" width="42.72" height="18.60" stroke="#555" stroke-width="1.15" fill="none"/>
<rect x="414.64" y="337.4" width="42.72" height="18.60" stroke="#555" stroke-width="1.15" fill="none"/>
<rect x="457.36" y="337.4" width="42.72" height="18.60" stroke="#555" stroke-width="1.15" fill="none"/>
<rect x="500.08" y="337.4" width="42.72" height="18.60" stroke="#555" stroke-width="1.15" fill="none"/>
<rect x="311.60" y="356.0" width="17.60" height="18.40" stroke="#555" stroke-width="1.15" fill="none"/>
<rect x="329.20" y="356.0" width="42.72" height="18.40" stroke="#555" stroke-width="1.15" fill="none"/>
<rect x="371.92" y="356.0" width="42.72" height="18.40" stroke="#555" stroke-width="1.15" fill="none"/>
<rect x="414.64" y="356.0" width="42.72" height="18.40" stroke="#555" stroke-width="1.15" fill="none"/>
<rect x="457.36" y="356.0" width="42.72" height="18.40" stroke="#555" stroke-width="1.15" fill="none"/>
<rect x="500.08" y="356.0" width="42.72" height="18.40" stroke="#555" stroke-width="1.15" fill="none"/>
<rect x="311.60" y="374.4" width="17.60" height="18.40" stroke="#555" stroke-width="1.15" fill="none"/>
<rect x="329.20" y="374.4" width="42.72" height="18.40" stroke="#555" stroke-width="1.15" fill="none"/>
<rect x="371.92" y="374.4" width="42.72" height="18.40" stroke="#555" stroke-width="1.15" fill="none"/>
<rect x="414.64" y="374.4" width="42.72" height="18.40" stroke="#555" stroke-width="1.15" fill="none"/>
<rect x="457.36" y="374.4" width="42.72" height="18.40" stroke="#555" stroke-width="1.15" fill="none"/>
<rect x="500.08" y="374.4" width="42.72" height="18.40" stroke="#555" stroke-width="1.15" fill="none"/>
<rect x="311.60" y="392.8" width="17.60" height="18.50" stroke="#555" stroke-width="1.15" fill="none"/>
<rect x="329.20" y="392.8" width="42.72" height="18.50" stroke="#555" stroke-width="1.15" fill="none"/>
<rect x="371.92" y="392.8" width="42.72" height="18.50" stroke="#555" stroke-width="1.15" fill="none"/>
<rect x="414.64" y="392.8" width="42.72" height="18.50" stroke="#555" stroke-width="1.15" fill="none"/>
<rect x="457.36" y="392.8" width="42.72" height="18.50" stroke="#555" stroke-width="1.15" fill="none"/>
<rect x="500.08" y="392.8" width="42.72" height="18.50" stroke="#555" stroke-width="1.15" fill="none"/>
<text x="367.77" y="314.30" font-size="9.80" font-weight="bold" stroke="#262626" stroke-width="0.15" textLength="135.07" lengthAdjust="spacingAndGlyphs" fill="#262626">CT Power Law Parameters</text>
<text x="339.89" y="330.40" font-size="7.35" font-weight="bold" stroke="#262626" stroke-width="0.2" textLength="21.06" lengthAdjust="spacingAndGlyphs" fill="#262626">100%</text>
<text x="385.13" y="330.40" font-size="7.35" font-weight="bold" stroke="#262626" stroke-width="0.2" textLength="16.25" lengthAdjust="spacingAndGlyphs" fill="#262626">50%</text>
<text x="427.84" y="330.40" font-size="7.35" font-weight="bold" stroke="#262626" stroke-width="0.2" textLength="16.25" lengthAdjust="spacingAndGlyphs" fill="#262626">25%</text>
<text x="470.45" y="330.40" font-size="7.35" font-weight="bold" stroke="#262626" stroke-width="0.2" textLength="16.25" lengthAdjust="spacingAndGlyphs" fill="#262626">10%</text>
<text x="515.71" y="330.40" font-size="7.35" font-weight="bold" stroke="#262626" stroke-width="0.2" textLength="11.43" lengthAdjust="spacingAndGlyphs" fill="#262626">5%</text>
<text x="318.09" y="349.20" font-size="7.99" font-weight="bold" stroke="#262626" stroke-width="0.2" textLength="4.33" lengthAdjust="spacingAndGlyphs" fill="#262626">a</text>
<text x="333.05" y="348.70" font-size="6.92" stroke="#262626" stroke-width="0.25" textLength="27.41" lengthAdjust="spacingAndGlyphs" fill="#262626">7.75 x 10</text>
<text x="360.46" y="346.70" font-size="4.15" textLength="5.48" lengthAdjust="spacingAndGlyphs" fill="#444">−7</text>
<text x="376.48" y="348.70" font-size="6.92" stroke="#262626" stroke-width="0.25" textLength="28.29" lengthAdjust="spacingAndGlyphs" fill="#262626">1.48 x 10</text>
<text x="404.76" y="346.70" font-size="4.15" textLength="5.49" lengthAdjust="spacingAndGlyphs" fill="#444">−4</text>
<text x="426.39" y="348.90" font-size="7.24" stroke="#262626" stroke-width="0.25" textLength="19.23" lengthAdjust="spacingAndGlyphs" fill="#262626">0.006</text>
<text x="469.18" y="348.90" font-size="7.24" stroke="#262626" stroke-width="0.25" textLength="19.11" lengthAdjust="spacingAndGlyphs" fill="#262626">0.003</text>
<text x="511.91" y="348.90" font-size="7.24" stroke="#262626" stroke-width="0.25" textLength="19.13" lengthAdjust="spacingAndGlyphs" fill="#262626">0.007</text>
<text x="317.52" y="367.70" font-size="7.99" font-weight="bold" stroke="#262626" stroke-width="0.2" textLength="5.11" lengthAdjust="spacingAndGlyphs" fill="#262626">k</text>
<text x="340.92" y="367.40" font-size="7.24" stroke="#262626" stroke-width="0.25" textLength="19.09" lengthAdjust="spacingAndGlyphs" fill="#262626">1.247</text>
<text x="383.74" y="367.40" font-size="7.24" stroke="#262626" stroke-width="0.25" textLength="19.11" lengthAdjust="spacingAndGlyphs" fill="#262626">0.673</text>
<text x="426.39" y="367.40" font-size="7.24" stroke="#262626" stroke-width="0.25" textLength="19.23" lengthAdjust="spacingAndGlyphs" fill="#262626">0.266</text>
<text x="469.24" y="367.40" font-size="7.24" stroke="#262626" stroke-width="0.25" textLength="19.03" lengthAdjust="spacingAndGlyphs" fill="#262626">0.322</text>
<text x="511.85" y="367.40" font-size="7.24" stroke="#262626" stroke-width="0.25" textLength="19.20" lengthAdjust="spacingAndGlyphs" fill="#262626">0.228</text>
<text x="318.29" y="386.10" font-size="7.99" font-weight="bold" stroke="#262626" stroke-width="0.2" textLength="4.13" lengthAdjust="spacingAndGlyphs" fill="#262626">c</text>
<text x="340.97" y="385.80" font-size="7.24" stroke="#262626" stroke-width="0.25" textLength="19.20" lengthAdjust="spacingAndGlyphs" fill="#262626">0.898</text>
<text x="385.87" y="385.80" font-size="7.24" stroke="#262626" stroke-width="0.25" textLength="14.87" lengthAdjust="spacingAndGlyphs" fill="#262626">0.89</text>
<text x="426.37" y="385.80" font-size="7.24" stroke="#262626" stroke-width="0.25" textLength="19.17" lengthAdjust="spacingAndGlyphs" fill="#262626">0.854</text>
<text x="469.14" y="385.80" font-size="7.24" stroke="#262626" stroke-width="0.25" textLength="19.20" lengthAdjust="spacingAndGlyphs" fill="#262626">0.689</text>
<text x="511.91" y="385.80" font-size="7.24" stroke="#262626" stroke-width="0.25" textLength="19.05" lengthAdjust="spacingAndGlyphs" fill="#262626">0.655</text>
<text x="318.03" y="404.55" font-size="7.99" font-weight="bold" stroke="#262626" stroke-width="0.2" textLength="4.81" lengthAdjust="spacingAndGlyphs" fill="#262626">S</text>
<text x="341.03" y="404.25" font-size="7.24" stroke="#262626" stroke-width="0.25" textLength="19.13" lengthAdjust="spacingAndGlyphs" fill="#262626">0.007</text>
<text x="383.80" y="404.25" font-size="7.24" stroke="#262626" stroke-width="0.25" textLength="19.03" lengthAdjust="spacingAndGlyphs" fill="#262626">0.002</text>
<text x="426.47" y="404.25" font-size="7.24" stroke="#262626" stroke-width="0.25" textLength="19.05" lengthAdjust="spacingAndGlyphs" fill="#262626">0.005</text>
<text x="469.21" y="404.25" font-size="7.24" stroke="#262626" stroke-width="0.25" textLength="19.08" lengthAdjust="spacingAndGlyphs" fill="#262626">0.001</text>
<text x="511.81" y="404.25" font-size="7.24" stroke="#262626" stroke-width="0.25" textLength="19.17" lengthAdjust="spacingAndGlyphs" fill="#262626">0.004</text>
<rect x="103.4" y="429.4" width="359.5" height="46.8" rx="1.5" fill="#EEEEF4" stroke="#DADAE2" stroke-width="1"/>
<line x1="107.8" y1="437.5" x2="128" y2="437.5" stroke="#111" stroke-width="1.2" stroke-dasharray="4 2"/>
<text x="135.63" y="441.00" font-size="10.76" textLength="185.30" lengthAdjust="spacingAndGlyphs" fill="#262626">fully supervised (100% training data)</text>
<circle cx="117.8" cy="452.2" r="1.95" fill="#4C72B0"/>
<text x="134.94" y="455.90" font-size="10.76" textLength="96.03" lengthAdjust="spacingAndGlyphs" fill="#262626">100% training data</text>
<circle cx="117.8" cy="466.9" r="1.95" fill="#55A868"/>
<text x="135.34" y="470.50" font-size="10.76" textLength="89.53" lengthAdjust="spacingAndGlyphs" fill="#262626">50% training data</text>
<circle cx="351.3" cy="437.4" r="1.95" fill="#C44E52"/>
<text x="369.02" y="441.00" font-size="10.76" textLength="89.70" lengthAdjust="spacingAndGlyphs" fill="#262626">25% training data</text>
<circle cx="351.3" cy="452.0" r="1.95" fill="#8172B2"/>
<text x="368.74" y="455.90" font-size="10.76" textLength="89.60" lengthAdjust="spacingAndGlyphs" fill="#262626">10% training data</text>
<circle cx="351.3" cy="466.7" r="1.95" fill="#64B5CD"/>
<text x="369.14" y="470.50" font-size="10.76" textLength="83.10" lengthAdjust="spacingAndGlyphs" fill="#262626">5% training data</text>
</svg>
</body></html>
